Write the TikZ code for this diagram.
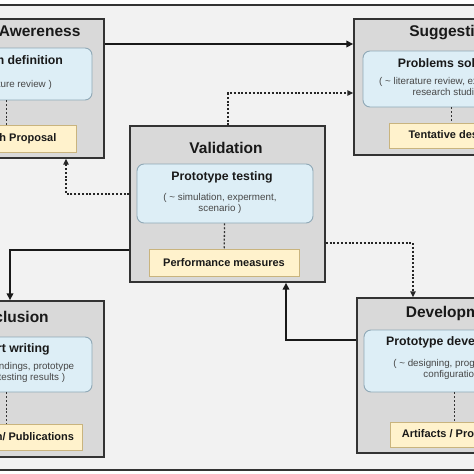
\documentclass[tikz,border=0pt]{standalone}
\usepackage{fontspec}
\setmainfont{Liberation Sans}
\usetikzlibrary{arrows.meta}
\definecolor{bggray}{HTML}{F2F2F2}
\definecolor{boxgray}{HTML}{D9D9D9}
\definecolor{framegray}{HTML}{333333}
\definecolor{taskblue}{HTML}{DDEEF6}
\definecolor{taskedge}{HTML}{8FA8B6}
\definecolor{outyellow}{HTML}{FFF2CC}
\definecolor{outedge}{HTML}{C9B47E}
\tikzset{
    stage/.style={draw=framegray, line width=1.4pt, fill=boxgray, inner sep=0pt},
    stagetitle/.style={font=\fontsize{15.5}{18}\selectfont\bfseries, text=black!90, inner sep=0pt},
    task/.style={draw=taskedge, line width=0.9pt, fill=taskblue, rounded corners=7pt, inner sep=0pt},
    taskname/.style={font=\fontsize{12.3}{14}\selectfont\bfseries, text=black!90, inner sep=0pt},
    taskdesc/.style={font=\fontsize{9.8}{11}\selectfont, text=black!72, align=center, inner sep=0pt},
    result/.style={draw=outedge, line width=0.9pt, fill=outyellow, inner sep=0pt,
        font=\fontsize{11}{13}\selectfont\bfseries, text=black!90},
    flow/.style={line width=2.1pt, black!90, -{Triangle[length=7pt,width=6.5pt]}},
    fback/.style={line width=1.4pt, black!85, dash pattern=on 2pt off 1.8pt,
        -{Triangle[length=6pt,width=5.5pt]}},
    link/.style={line width=1.3pt, black!80, dash pattern=on 2pt off 1.8pt},
}
\begin{document}
\begin{tikzpicture}[x=1pt, y=-1pt]
        \useasboundingbox (0,0) rectangle (474,474);
        \clip (0,0) rectangle (474,474);
        \fill[white] (0,0) rectangle (474,474);

        % Frame
        \fill[bggray] (-10,5) rectangle (484,470);
        \draw[line width=2.4pt, framegray] (-10,5) -- (484,5);
        \draw[line width=2.4pt, framegray] (-10,470) -- (484,470);

        % Awareness
        \node[stage, minimum width=195pt, minimum height=139pt] (awbox) at (6.5,88.5) {};
        \node[stagetitle] (awtitle) at (6.5,31) {Problem Awereness};
        \node[task, minimum width=171pt, minimum height=52pt] (awtask) at (6.5,74) {};
        \node[taskname] (awname) at (9,60) {Problem definition};
        \node[taskdesc] (awdesc) at (7,85) {( \textasciitilde{} literature review )};
        \node[result, minimum width=139pt, minimum height=27pt] (awout) at (6.5,138.5) {Research Proposal};

        % Suggestion
        \node[stage, minimum width=195pt, minimum height=136pt] (sugbox) at (451.5,87) {};
        \node[stagetitle] (sugtitle) at (451.5,33) {Suggestion};
        \node[task, minimum width=177pt, minimum height=56pt] (sugtask) at (451.5,79) {};
        \node[taskname] (sugname) at (451.5,63) {Problems solution};
        \node[taskdesc] (sugdesc) at (451.5,87) {( \textasciitilde{} literature review, experiments,\\ research studies )};
        \node[result, minimum width=125pt, minimum height=25pt] (sugout) at (451.5,135.5) {Tentative design};

        % Validation
        \node[stage, minimum width=195pt, minimum height=156pt] (valbox) at (227.5,204) {};
        \node[stagetitle] (valtitle) at (226,148) {Validation};
        \node[task, minimum width=176pt, minimum height=59pt] (valtask) at (225,193.5) {};
        \node[taskname] (valname) at (222,177) {Prototype testing};
        \node[taskdesc] (valdesc) at (220,203.5) {( \textasciitilde{} simulation, experment,\\ scenario )};
        \node[result, minimum width=150pt, minimum height=27pt] (valout) at (224,262.5) {Performance measures};

        % Development
        \node[stage, minimum width=195pt, minimum height=155pt] (devbox) at (454.5,375.5) {};
        \node[stagetitle] (devtitle) at (454.5,313) {Development};
        \node[task, minimum width=181pt, minimum height=62pt] (devtask) at (454.5,361) {};
        \node[taskname] (devname) at (454.5,342) {Prototype development};
        \node[taskdesc] (devdesc) at (454.5,369) {( \textasciitilde{} designing, programming,\\ configuration )};
        \node[result, minimum width=129pt, minimum height=25pt] (devout) at (454.5,434.5) {Artifacts / Prototype};

        % Conclusion
        \node[stage, minimum width=195pt, minimum height=156pt] (conbox) at (6.5,379) {};
        \node[stagetitle] (contitle) at (6.5,317) {Conclusion};
        \node[task, minimum width=171pt, minimum height=55pt] (contask) at (6.5,364.5) {};
        \node[taskname] (conname) at (8,349) {Report writing};
        \node[taskdesc] (condesc) at (6.5,372.5) {( \textasciitilde{} research findings, prototype\\ design and testing results )};
        \node[result, minimum width=151pt, minimum height=26pt] (conout) at (6.5,437) {Dissertation/ Publications};

        % Inside each stage
        \foreach \s in {aw,sug,val,dev,con} {
            \draw[link] (\s task) -- (\s out);
        }

        % Main flow
        \draw[flow] (awbox.east |- 0,44) -- (sugbox.west |- 0,44);
        \draw[flow] (devbox.west |- 0,340) -| (valbox.south -| 286,0);
        \draw[flow] (valbox.west |- 0,250) -| (conbox.north -| 10,0);

        % Feedback
        \draw[fback] (valbox.north -| 228,0) |- (sugbox.west |- 0,93);
        \draw[fback] (valbox.west |- 0,194) -| (awbox.south -| 66,0);
        \draw[fback] (valbox.east |- 0,243) -| (devbox.north -| 413,0);
    \end{tikzpicture}
\end{document}
